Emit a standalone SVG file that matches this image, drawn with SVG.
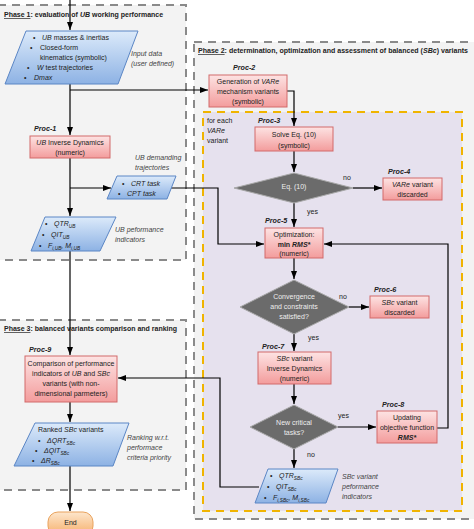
<svg xmlns="http://www.w3.org/2000/svg" width="474" height="529" viewBox="0 0 474 529">
<defs>
<linearGradient id="gp" x1="0" y1="0" x2="0" y2="1"><stop offset="0" stop-color="#fde3e3"/><stop offset="1" stop-color="#f39c9c"/></linearGradient>
<linearGradient id="gb" x1="0" y1="0" x2="0" y2="1"><stop offset="0" stop-color="#dceafa"/><stop offset="1" stop-color="#8db2e4"/></linearGradient>
<linearGradient id="go" x1="0" y1="0" x2="0" y2="1"><stop offset="0" stop-color="#fde6cc"/><stop offset="1" stop-color="#f6ae68"/></linearGradient>
<marker id="ah" markerWidth="8" markerHeight="6" refX="8" refY="3" orient="auto" markerUnits="userSpaceOnUse"><path d="M0,0 L8,3 L0,6 z" fill="#000"/></marker>
<style>
text{font-family:"Liberation Sans",Arial,sans-serif;font-size:7px;fill:#222}
.c{text-anchor:middle}
.lbl{font-weight:bold;font-style:italic;font-size:7.2px}
.it{font-style:italic;fill:#444}
.ttl{font-weight:bold;font-size:7px}
.dt{fill:#eee}
.proc{fill:url(#gp);stroke:#d26a6a;stroke-width:1}
.data{fill:url(#gb);stroke:#5b86c5;stroke-width:1}
.dec{fill:#6b6b6b;stroke:#a8a8a8;stroke-width:1}
.phase{fill:#f3f3f3;stroke:#8a8a8a;stroke-width:2;stroke-dasharray:8 6}
.conn{fill:none;stroke:#000;stroke-width:1.2}
.sub{font-size:4.8px}
</style>
</defs>
<rect width="474" height="529" fill="#fff"/>
<g id="phase1"><rect class="phase" x="-2" y="5" width="188" height="255"/><text class="ttl" x="4" y="17"><tspan text-decoration="underline">Phase 1</tspan>:  evaluation of <tspan font-style="italic">UB</tspan> working performance</text></g>
<g id="phase3"><rect class="phase" x="-2" y="320" width="188" height="170"/><text class="ttl" x="4" y="331"><tspan text-decoration="underline">Phase 3</tspan>:    balanced variants comparison and ranking</text></g>
<g id="phase2"><rect class="phase" x="194" y="42" width="284" height="477"/><text class="ttl" x="198" y="53" textLength="270" lengthAdjust="spacingAndGlyphs"><tspan text-decoration="underline">Phase 2</tspan>: determination, optimization and assessment of balanced (<tspan font-style="italic">SBc</tspan>) variants</text></g>
<g id="loop"><rect x="203" y="112" width="259" height="399" fill="#e6e1ee" stroke="#f0b400" stroke-width="2" stroke-dasharray="8 6"/><text x="207" y="123">for each</text><text x="207" y="133" font-style="italic">VARe</text><text x="207" y="143">variant</text></g>
<g id="connectors">
<path class="conn" d="M70,0 V30" marker-end="url(#ah)"/>
<path class="conn" d="M70,90 H208" marker-end="url(#ah)"/>
<path class="conn" d="M70,84 V135" marker-end="url(#ah)"/>
<path class="conn" d="M70,158 V216" marker-end="url(#ah)"/>
<path class="conn" d="M70,188 H111" marker-end="url(#ah)"/>
<path class="conn" d="M168,188 H218 V244 H264" marker-end="url(#ah)"/>
<path class="conn" d="M70,251 V355" marker-end="url(#ah)"/>
<path class="conn" d="M70,402 V422" marker-end="url(#ah)"/>
<path class="conn" d="M70,466 V511" marker-end="url(#ah)"/>
<path class="conn" d="M287,91 H294 V126" marker-end="url(#ah)"/>
<path class="conn" d="M294,151 V172" marker-end="url(#ah)"/>
<path class="conn" d="M353,188 H382" marker-end="url(#ah)"/>
<path class="conn" d="M294,203 V227" marker-end="url(#ah)"/>
<path class="conn" d="M294,258 V279" marker-end="url(#ah)"/>
<path class="conn" d="M349,307 H369" marker-end="url(#ah)"/>
<path class="conn" d="M294,334 V351" marker-end="url(#ah)"/>
<path class="conn" d="M294,384 V404" marker-end="url(#ah)"/>
<path class="conn" d="M338,427 H376" marker-end="url(#ah)"/>
<path class="conn" d="M437,428 H448 V244 H324" marker-end="url(#ah)"/>
<path class="conn" d="M294,449 V468" marker-end="url(#ah)"/>
<path class="conn" d="M259,487 H220 V378 H118" marker-end="url(#ah)"/>
<text x="343" y="180">no</text><text x="307" y="214">yes</text>
<text x="339" y="299">no</text><text x="308" y="340">yes</text>
<text x="338" y="418">yes</text><text x="307" y="457">no</text>
</g>
<g id="input"><polygon class="data" points="26,31 138,31 118,84 5,84"/>
<text x="33" y="40">•</text><text x="42" y="40"><tspan font-style="italic">UB</tspan> masses &amp; inertias</text>
<text x="30" y="50">•</text><text x="40" y="50">Closed-form</text><text x="40" y="60">kinematics (symbolic)</text>
<text x="27" y="70">•</text><text x="37" y="70"><tspan font-style="italic">W</tspan> test trajectories</text>
<text x="24" y="80">•</text><text x="34" y="80" font-style="italic">Dmax</text>
<text class="it" x="131" y="56">Input data</text><text class="it" x="131" y="66">(user defined)</text></g>
<g id="proc1"><text class="lbl" x="34" y="131">Proc-1</text><rect class="proc" x="30" y="136" width="80" height="22"/><text class="c" x="70" y="145"><tspan font-style="italic">UB</tspan> Inverse Dynamics</text><text class="c" x="70" y="155">(numeric)</text></g>
<g id="crt"><polygon class="data" points="117,176 176,176 167,199 107,199"/><text x="122" y="186">•</text><text x="131" y="186" font-style="italic">CRT task</text><text x="118" y="196">•</text><text x="127" y="196" font-style="italic">CPT task</text>
<text class="it" x="135" y="160">UB demanding</text><text class="it" x="135" y="170">trajectories</text></g>
<g id="ubperf"><polygon class="data" points="45,217 116,217 100,251 31,251"/>
<text x="45" y="226">•</text><text x="54" y="226" font-style="italic">QTR<tspan class="sub" dy="1.5">UB</tspan></text>
<text x="42" y="237">•</text><text x="51" y="237" font-style="italic">QIT<tspan class="sub" dy="1.5">UB</tspan></text>
<text x="39" y="248">•</text><text x="48" y="248" font-style="italic">F<tspan class="sub" dy="1.5">i,UB</tspan><tspan dy="-1.5">, M</tspan><tspan class="sub" dy="1.5">i,UB</tspan></text>
<text class="it" x="115" y="232">UB peformance</text><text class="it" x="115" y="242">indicators</text></g>
<g id="proc9"><text class="lbl" x="29" y="352">Proc-9</text><rect class="proc" x="25" y="356" width="92" height="46"/>
<text class="c" x="71" y="366">Comparison of performance</text><text class="c" x="71" y="376">indicators of <tspan font-style="italic">UB</tspan> and <tspan font-style="italic">SBc</tspan></text><text class="c" x="71" y="386">variants (with non-</text><text class="c" x="71" y="396">dimensional parmeters)</text></g>
<g id="ranked"><polygon class="data" points="35,423 129,423 113,466 14,466"/>
<text x="38" y="432">Ranked <tspan font-style="italic">SBc</tspan> variants</text>
<text x="38" y="443">•</text><text x="47" y="443" font-style="italic">ΔQRT<tspan class="sub" dy="1.5">SBc</tspan></text>
<text x="35" y="453">•</text><text x="44" y="453" font-style="italic">ΔQIT<tspan class="sub" dy="1.5">SBc</tspan></text>
<text x="32" y="463">•</text><text x="41" y="463" font-style="italic">ΔR<tspan class="sub" dy="1.5">SBc</tspan></text>
<text class="it" x="127" y="440">Ranking w.r.t.</text><text class="it" x="127" y="450">performace</text><text class="it" x="127" y="460">criteria priority</text></g>
<g id="end"><rect x="48" y="512" width="45" height="24" rx="10" fill="url(#go)" stroke="#e9a25c"/><text class="c" x="70.5" y="525">End</text></g>
<g id="proc2"><text class="lbl" x="233" y="70">Proc-2</text><rect class="proc" x="209" y="75" width="78" height="32"/><text class="c" x="248" y="84">Generation of <tspan font-style="italic">VARe</tspan></text><text class="c" x="248" y="94">mechanism variants</text><text class="c" x="248" y="104">(symbolic)</text></g>
<g id="proc3"><text class="lbl" x="258" y="123">Proc-3</text><rect class="proc" x="255" y="127" width="78" height="24"/><text class="c" x="294" y="137">Solve Eq. (10)</text><text class="c" x="294" y="148">(symbolic)</text></g>
<g id="dec1"><polygon class="dec" points="294,173 353,188 294,203 234,188"/><text class="c dt" x="294" y="189">Eq. (10)</text></g>
<g id="proc4"><text class="lbl" x="388" y="174">Proc-4</text><rect class="proc" x="383" y="178" width="59" height="22"/><text class="c" x="412.5" y="187"><tspan font-style="italic">VARe</tspan> variant</text><text class="c" x="412.5" y="197">discarded</text></g>
<g id="proc5"><text class="lbl" x="265" y="223">Proc-5</text><rect class="proc" x="265" y="228" width="58" height="30"/><text class="c" x="294" y="237">Optimization:</text><text class="c" x="294" y="247" font-weight="bold">min <tspan font-style="italic">RMS*</tspan></text><text class="c" x="294" y="256">(numeric)</text></g>
<g id="dec2"><polygon class="dec" points="294,280 349,307 294,334 240,307"/><text class="c dt" x="294" y="299">Convergence</text><text class="c dt" x="294" y="309">and constraints</text><text class="c dt" x="294" y="319">satisfied?</text></g>
<g id="proc6"><text class="lbl" x="374" y="292">Proc-6</text><rect class="proc" x="370" y="296" width="59" height="22"/><text class="c" x="399.5" y="305"><tspan font-style="italic">SBc</tspan> variant</text><text class="c" x="399.5" y="315">discarded</text></g>
<g id="proc7"><text class="lbl" x="262" y="349">Proc-7</text><rect class="proc" x="258" y="352" width="73" height="32"/><text class="c" x="294.5" y="361"><tspan font-style="italic">SBc</tspan> variant</text><text class="c" x="294.5" y="371">Inverse Dynamics</text><text class="c" x="294.5" y="381">(numeric)</text></g>
<g id="dec3"><polygon class="dec" points="294,405 338,427 294,449 250,427"/><text class="c dt" x="294" y="425">New critical</text><text class="c dt" x="294" y="435">tasks?</text></g>
<g id="proc8"><text class="lbl" x="382" y="407">Proc-8</text><rect class="proc" x="377" y="411" width="60" height="32"/><text class="c" x="407" y="420">Updating</text><text class="c" x="407" y="430">objective function</text><text class="c" x="407" y="440" font-weight="bold" font-style="italic">RMS*</text></g>
<g id="sbcperf"><polygon class="data" points="268,469 338,469 326,503 255,503"/>
<text x="270" y="478">•</text><text x="279" y="478" font-style="italic">QTR<tspan class="sub" dy="1.5">SBc</tspan></text>
<text x="267" y="489">•</text><text x="276" y="489" font-style="italic">QIT<tspan class="sub" dy="1.5">SBc</tspan></text>
<text x="264" y="500">•</text><text x="273" y="500" font-style="italic">F<tspan class="sub" dy="1.5">i,SBc</tspan><tspan dy="-1.5">, M</tspan><tspan class="sub" dy="1.5">i,SBc</tspan></text>
<text class="it" x="342" y="479">SBc variant</text><text class="it" x="342" y="489">peformance</text><text class="it" x="342" y="499">indicators</text></g>
</svg>
